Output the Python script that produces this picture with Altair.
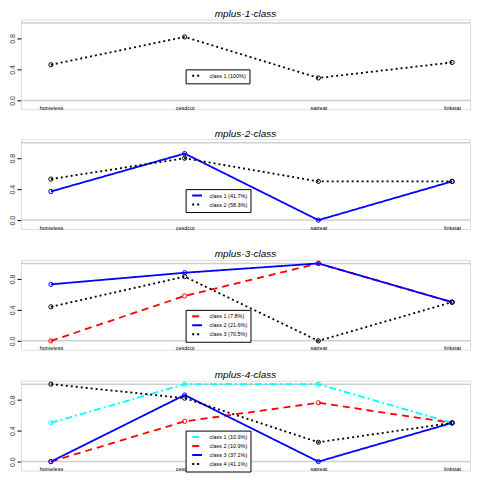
import altair as alt
import pandas as pd

items = ["homeless", "cesdcut", "satreat", "linkstat"]
panel_titles = ["mplus-1-class", "mplus-2-class", "mplus-3-class", "mplus-4-class"]

# class labels per panel
labels_1 = ["class 1 (100%)"]
labels_2 = ["class 1 (41.7%)", "class 2 (58.3%)"]
labels_3 = ["class 1 (7.8%)", "class 2 (21.6%)", "class 3 (70.5%)"]
labels_4 = ["class 1 (10.9%)", "class 2 (10.9%)", "class 3 (37.1%)", "class 4 (41.1%)"]

# probabilities per class (homeless, cesdcut, satreat, linkstat)
vals_1 = [[0.46, 0.82, 0.29, 0.49]]
vals_2 = [[0.37, 0.86, 0.00, 0.50],
          [0.53, 0.80, 0.50, 0.50]]
vals_3 = [[0.00, 0.58, 1.00, 0.50],
          [0.73, 0.88, 1.00, 0.50],
          [0.44, 0.83, 0.00, 0.50]]
vals_4 = [[0.50, 1.00, 1.00, 0.50],
          [0.00, 0.52, 0.76, 0.50],
          [0.00, 0.86, 0.00, 0.50],
          [1.00, 0.82, 0.25, 0.50]]

# styles per panel (R palette order)
colors_1 = ["black"]
colors_2 = ["blue", "black"]
colors_3 = ["red", "blue", "black"]
colors_4 = ["cyan", "red", "blue", "black"]
DOT = [2, 3]
DASH = [7, 5]
SOLID = [1, 0]
DOTDASH = [7, 3, 2, 3]
dashes_1 = [DOT]
dashes_2 = [SOLID, DOT]
dashes_3 = [DASH, SOLID, DOT]
dashes_4 = [DOTDASH, DASH, SOLID, DOT]

panels = [
    (labels_1, vals_1, colors_1, dashes_1),
    (labels_2, vals_2, colors_2, dashes_2),
    (labels_3, vals_3, colors_3, dashes_3),
    (labels_4, vals_4, colors_4, dashes_4),
]

FONT = "Liberation Sans"
label_expr = "[" + ",".join("'%s'" % s for s in items) + "][datum.value - 1]"

W, H = 450, 90


def panel(title, labels, vals, colors, dashes):
    rows = []
    for ci, (lab, vs) in enumerate(zip(labels, vals)):
        for ii, v in enumerate(vs):
            rows.append({"cls": lab, "order": ci, "pos": ii + 1, "item": items[ii], "value": v})
    df = pd.DataFrame(rows)
    ref = pd.DataFrame({"value": [0.0, 1.0]})

    xs = alt.Scale(domain=[0.776, 4.134], nice=False, zero=False)
    ys = alt.Scale(domain=[-0.115, 1.045], nice=False, zero=False)

    xaxis = alt.Axis(values=[1, 2, 3, 4], labelExpr=label_expr, title=None,
                     ticks=False, tickSize=0, domain=False, grid=False,
                     labelPadding=-2, labelBaseline="middle", labelFontSize=5.5,
                     labelFont=FONT, labelColor="black")
    yaxis = alt.Axis(values=[0, 0.4, 0.8], format=".1f", title=None, grid=False,
                     domain=False, tickSize=4, tickColor="black", labelAngle=270,
                     labelAlign="center", labelBaseline="bottom", labelPadding=1,
                     labelFontSize=7, labelFont=FONT, labelColor="#333333")

    rules = alt.Chart(ref).mark_rule(color="#cfcfcf", strokeWidth=1.5).encode(
        y=alt.Y("value:Q", scale=ys, axis=yaxis)
    )

    color_scale = alt.Scale(domain=labels, range=colors)
    dash_scale = alt.Scale(domain=labels, range=dashes)
    legend = alt.Legend(title=None, orient="none", legendX=165, legendY=50,
                        strokeColor="black", fillColor="white", padding=3,
                        symbolType="M-2.1,0H2.1", symbolSize=22, symbolStrokeWidth=2,
                        labelFontSize=5.5, labelFont=FONT, labelColor="black",
                        rowPadding=0, symbolOffset=5, labelOffset=9, cornerRadius=0)

    lines = alt.Chart(df).mark_line(strokeWidth=1.8).encode(
        x=alt.X("pos:Q", scale=xs, axis=xaxis),
        y=alt.Y("value:Q", scale=ys),
        color=alt.Color("cls:N", scale=color_scale, legend=legend, sort=labels),
        strokeDash=alt.StrokeDash("cls:N", scale=dash_scale, legend=legend, sort=labels),
        detail="cls:N",
        order="pos:Q",
    )

    pts = alt.Chart(df).mark_point(filled=False, size=18, strokeWidth=1, opacity=1).encode(
        x=alt.X("pos:Q", scale=xs),
        y=alt.Y("value:Q", scale=ys),
        stroke=alt.Stroke("cls:N", scale=alt.Scale(domain=labels, range=colors), legend=None),
    )

    return alt.layer(rules, lines, pts).properties(
        width=W, height=H,
        title=alt.TitleParams(title, fontSize=10, fontStyle="italic", fontWeight="normal",
                              font=FONT, offset=0, anchor="middle", color="black"),
    )


charts = [panel(t, *p) for t, p in zip(panel_titles, panels)]

chart = alt.vconcat(*charts, spacing=17).resolve_scale(
    color="independent", strokeDash="independent", stroke="independent"
).resolve_legend(
    color="independent", strokeDash="independent"
).properties(padding=0).configure_view(
    stroke="#222222", strokeWidth=1
).configure(background="white")

chart.save("out.html", embed_options={"renderer": "svg", "actions": False})
